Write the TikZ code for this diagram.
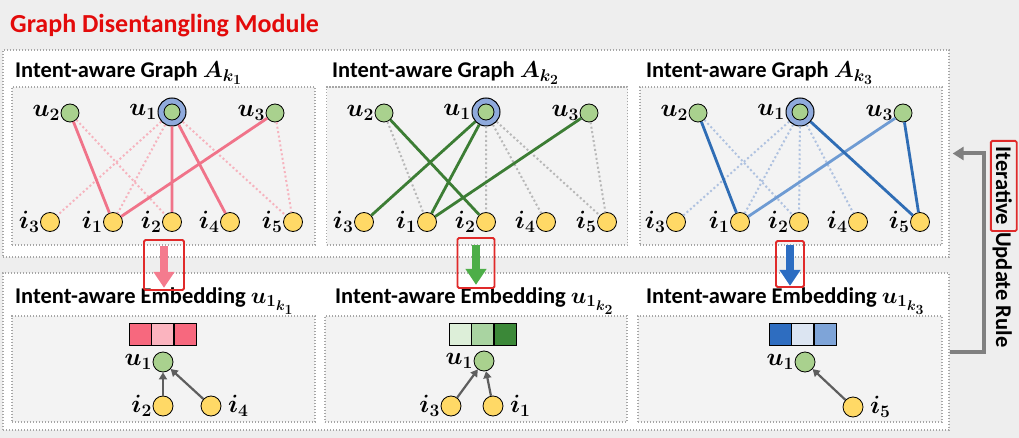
\RequirePackage{fix-cm}
\documentclass[tikz,border=0pt]{standalone}
\usepackage[no-math]{fontspec}
\setmainfont{Carlito}
\usetikzlibrary{arrows.meta,positioning}
\DeclareMathSizes{22.5}{23}{17}{14}

\definecolor{bggray}{HTML}{EEEEEE}
\definecolor{boxgray}{HTML}{F3F3F3}
\definecolor{dotgray}{HTML}{A6A6A6}
\definecolor{titlered}{HTML}{E30B0B}
\definecolor{boxred}{HTML}{E02A2A}
\definecolor{usergreen}{HTML}{A9D18E}
\definecolor{itemyellow}{HTML}{FFD966}
\definecolor{ringblue}{HTML}{8FAADC}
\definecolor{pinkline}{HTML}{F07389}
\definecolor{pinkdot}{HTML}{F6B3BE}
\definecolor{greenline}{HTML}{3C7D34}
\definecolor{graydot}{HTML}{B8B8B8}
\definecolor{blueline}{HTML}{2F6DB5}
\definecolor{bluelight}{HTML}{6E9BD3}
\definecolor{bluedot}{HTML}{AFC2E0}
\definecolor{pinkA}{HTML}{F7687E}
\definecolor{pinkB}{HTML}{FBB4BF}
\definecolor{greenA}{HTML}{DDEFD9}
\definecolor{greenB}{HTML}{A9D4A1}
\definecolor{greenC}{HTML}{3B8838}
\definecolor{blueA}{HTML}{2E6DC0}
\definecolor{blueB}{HTML}{DCE5F2}
\definecolor{blueC}{HTML}{7EA4D8}
\definecolor{pinkarrow}{HTML}{F47B8E}
\definecolor{greenarrow}{HTML}{4DAE48}
\definecolor{bluearrow}{HTML}{2C6DC2}
\definecolor{msggray}{HTML}{5E5E5E}
\definecolor{loopgray}{HTML}{808080}

\begin{document}
\begin{tikzpicture}[
        x=1pt, y=-1pt,
        % 文字樣式
        txt/.style={font=\fontsize{22.5}{26}\selectfont\bfseries\boldmath, inner sep=0pt},
        lbl/.style={font=\fontsize{25}{28}\selectfont\boldmath, inner sep=0.5pt},
        ul/.style={label={[lbl]left:#1}},
        ur/.style={label={[lbl, label distance=6pt]right:#1}},
        % 節點樣式
        user/.style={circle, draw=black, fill=usergreen, line width=0.8pt,
            inner sep=0pt, minimum size=18pt},
        item/.style={circle, draw=black, fill=itemyellow, line width=0.8pt,
            inner sep=0pt, minimum size=19pt},
        hubring/.style={circle, draw=black, fill=ringblue, line width=1pt,
            inner sep=0pt, minimum size=28pt},
        cell/.style={draw=black, line width=0.8pt, inner sep=0pt, minimum size=22pt},
        % 外框樣式
        panel/.style={draw=dotgray, line width=1.3pt, dash pattern=on 1.3pt off 1.7pt, inner sep=0pt},
        redbox/.style={draw=boxred, line width=1.8pt, rounded corners=1.5pt,
            inner sep=0pt, minimum height=50pt},
        % 連線樣式
        pinkedge/.style={draw=pinkline, line width=2.8pt},
        pinkdots/.style={draw=pinkdot, line width=2pt, dash pattern=on 2pt off 2.5pt},
        greenedge/.style={draw=greenline, line width=2.8pt},
        graydots/.style={draw=graydot, line width=2pt, dash pattern=on 2pt off 2.5pt},
        blueedge/.style={draw=blueline, line width=2.8pt},
        bluedots/.style={draw=bluedot, line width=2pt, dash pattern=on 2pt off 2.5pt},
        msg/.style={draw=msggray, line width=2.2pt, -{Triangle[width=8pt,length=7pt]}},
        fat/.style={line width=8pt, -{Triangle[width=20pt,length=16pt]}},
        loopback/.style={draw=loopgray, line width=4pt, -{Triangle[width=13pt,length=11pt]}}
    ]
        % --- 0. 背景與外框 ---
        \fill[bggray] (0,0) rectangle (1019,438);
        \useasboundingbox (0,0) rectangle (1019,438);
        \node[txt, anchor=base west, text=titlered, font=\fontsize{26}{30}\selectfont\bfseries]
            (title) at (10,33) {Graph Disentangling Module};

        \node[panel, fill=white, minimum width=946pt, minimum height=207pt] (upbox) at (476,153.5) {};
        \node[panel, fill=white, minimum width=946pt, minimum height=157pt] (lowbox) at (476,351.5) {};

        \node[panel, fill=boxgray, minimum width=303pt, minimum height=158pt] (gbox1) at (163.5,166) {};
        \node[panel, fill=boxgray, minimum width=301pt, minimum height=158pt] (gbox2) at (477,166) {};
        \node[panel, fill=boxgray, minimum width=302pt, minimum height=158pt] (gbox3) at (791,166) {};
        \node[panel, fill=boxgray, minimum width=303pt, minimum height=106pt] (ebox1) at (163.5,369) {};
        \node[panel, fill=boxgray, minimum width=302pt, minimum height=106pt] (ebox2) at (476,369) {};
        \node[panel, fill=boxgray, minimum width=304pt, minimum height=106pt] (ebox3) at (790,369) {};

        \node[txt, anchor=base west] (gtitle1) at (15,78) {Intent-aware Graph $A_{k_1}$};
        \node[txt, anchor=base west] (gtitle2) at (332,78) {Intent-aware Graph $A_{k_2}$};
        \node[txt, anchor=base west] (gtitle3) at (646,78) {Intent-aware Graph $A_{k_3}$};
        \node[txt, anchor=base west] (etitle1) at (15,303) {Intent-aware Embedding $u_{1_{k_1}}$};
        \node[txt, anchor=base west] (etitle2) at (335,303) {Intent-aware Embedding $u_{1_{k_2}}$};
        \node[txt, anchor=base west] (etitle3) at (646,303) {Intent-aware Embedding $u_{1_{k_3}}$};

        % --- 1. 三個意圖圖 (Intent-aware Graph) ---

        % 第一個 (k1)
        \node[user, ul=$u_2$] (u2k1) at (70,113) {};
        \node[hubring, ul=$u_1$] (u1k1) at (172,112) {};
        \node[user, minimum size=16pt] (u1k1c) at (u1k1) {};
        \node[user, ul=$u_3$] (u3k1) at (275,113) {};
        \node[item, ul=$i_3$] (i3k1) at (50,222) {};
        \node[item, ul=$i_1$] (i1k1) at (113,222) {};
        \node[item, ul=$i_2$] (i2k1) at (172,222) {};
        \node[item, ul=$i_4$] (i4k1) at (230,222) {};
        \node[item, ul=$i_5$] (i5k1) at (293,222) {};

        \draw[pinkdots] (u1k1) -- (i3k1) (u1k1) -- (i1k1) (u2k1) -- (i2k1)
            (u1k1) -- (i5k1) (u3k1) -- (i5k1);
        \draw[pinkedge] (u2k1) -- (i1k1) (u1k1) -- (i2k1) (u1k1) -- (i4k1) (u3k1) -- (i1k1);

        % 第二個 (k2)
        \begin{scope}[xshift=314pt]
            \node[user, ul=$u_2$] (u2k2) at (70,113) {};
            \node[hubring, ul=$u_1$] (u1k2) at (172,112) {};
            \node[user, minimum size=16pt] (u1k2c) at (u1k2) {};
            \node[user, ul=$u_3$] (u3k2) at (275,113) {};
            \node[item, ul=$i_3$] (i3k2) at (50,222) {};
            \node[item, ul=$i_1$] (i1k2) at (113,222) {};
            \node[item, ul=$i_2$] (i2k2) at (172,222) {};
            \node[item, ul=$i_4$] (i4k2) at (232,222) {};
            \node[item, ul=$i_5$] (i5k2) at (293,222) {};
        \end{scope}

        \draw[graydots] (u2k2) -- (i1k2) (u1k2) -- (i2k2) (u1k2) -- (i4k2)
            (u1k2) -- (i5k2) (u3k2) -- (i5k2);
        \draw[greenedge] (u2k2) -- (i2k2) (u1k2) -- (i3k2) (u1k2) -- (i1k2) (u3k2) -- (i1k2);

        % 第三個 (k3)
        \begin{scope}[xshift=628pt]
            \node[user, ul=$u_2$] (u2k3) at (70,113) {};
            \node[hubring, ul=$u_1$] (u1k3) at (172,112) {};
            \node[user, minimum size=16pt] (u1k3c) at (u1k3) {};
            \node[user, ul=$u_3$] (u3k3) at (275,113) {};
            \node[item, ul=$i_3$] (i3k3) at (48,222) {};
            \node[item, ul=$i_1$] (i1k3) at (112,222) {};
            \node[item, ul=$i_2$] (i2k3) at (171,222) {};
            \node[item, ul=$i_4$] (i4k3) at (230,222) {};
            \node[item, ul=$i_5$] (i5k3) at (292,222) {};
        \end{scope}

        \draw[bluedots] (u1k3) -- (i3k3) (u1k3) -- (i1k3) (u2k3) -- (i2k3)
            (u1k3) -- (i2k3) (u1k3) -- (i4k3);
        \draw[blueedge, draw=bluelight] (u3k3) -- (i1k3);
        \draw[blueedge] (u2k3) -- (i1k3) (u1k3) -- (i5k3) (u3k3) -- (i5k3);

        % --- 2. 意圖嵌入 (Intent-aware Embedding) ---

        % 第一個 (k1)
        \node[cell, fill=pinkA] (v1k1) at (140,334) {};
        \node[cell, fill=pinkB, right=0pt of v1k1] (v2k1) {};
        \node[cell, fill=pinkA, right=0pt of v2k1] (v3k1) {};
        \node[user, minimum size=20pt, ul=$u_1$] (eu1k1) at (163,362) {};
        \node[item, minimum size=20pt, ul=$i_2$] (ei2k1) at (163,406) {};
        \node[item, minimum size=20pt, ur=$i_4$] (ei4k1) at (211,406) {};
        \draw[msg] (ei2k1) -- (eu1k1);
        \draw[msg] (ei4k1) -- (eu1k1);

        % 第二個 (k2)
        \node[cell, fill=greenA] (v1k2) at (460,334) {};
        \node[cell, fill=greenB, right=0pt of v1k2] (v2k2) {};
        \node[cell, fill=greenC, right=0pt of v2k2] (v3k2) {};
        \node[user, minimum size=20pt, ul=$u_1$] (eu1k2) at (484,361) {};
        \node[item, minimum size=20pt, ul=$i_3$] (ei3k2) at (451,406) {};
        \node[item, minimum size=20pt, ur=$i_1$] (ei1k2) at (493,406) {};
        \draw[msg] (ei3k2) -- (eu1k2);
        \draw[msg] (ei1k2) -- (eu1k2);

        % 第三個 (k3)
        \node[cell, fill=blueA] (v1k3) at (780,334) {};
        \node[cell, fill=blueB, right=0pt of v1k3] (v2k3) {};
        \node[cell, fill=blueC, right=0pt of v2k3] (v3k3) {};
        \node[user, minimum size=20pt, ul=$u_1$] (eu1k3) at (805,362) {};
        \node[item, minimum size=20pt, ur=$i_5$] (ei5k3) at (853,407) {};
        \draw[msg] (ei5k3) -- (eu1k3);

        % --- 3. 紅框與向下箭頭 ---
        \node[redbox, minimum width=40pt] (rb1) at (164,265) {};
        \node[redbox, minimum width=37pt] (rb2) at (476,263) {};
        \node[redbox, minimum width=28pt, minimum height=46pt] (rb3) at (790,264) {};
        \draw[fat, draw=pinkarrow] ([yshift=-7pt]rb1.north) -- ([yshift=3pt]rb1.south);
        \draw[fat, draw=greenarrow] ([yshift=-8pt]rb2.north) -- ([yshift=4pt]rb2.south);
        \draw[fat, draw=bluearrow] ([yshift=-5pt]rb3.north) -- ([yshift=2pt]rb3.south);

        % --- 4. 迭代更新 (右側) ---
        \node[txt, rotate=-90, anchor=base west, draw=boxred, line width=1.8pt,
            rounded corners=1.5pt, inner xsep=6pt, inner ysep=5pt] (iter) at (996,140) {Iterative};
        \node[txt, rotate=-90, anchor=base west] (upd) at (iter.base east) {Update Rule};
        \draw[loopback] (lowbox.east) -- ++(34,0) |- ([xshift=3pt]upbox.east);

    \end{tikzpicture}
\end{document}
